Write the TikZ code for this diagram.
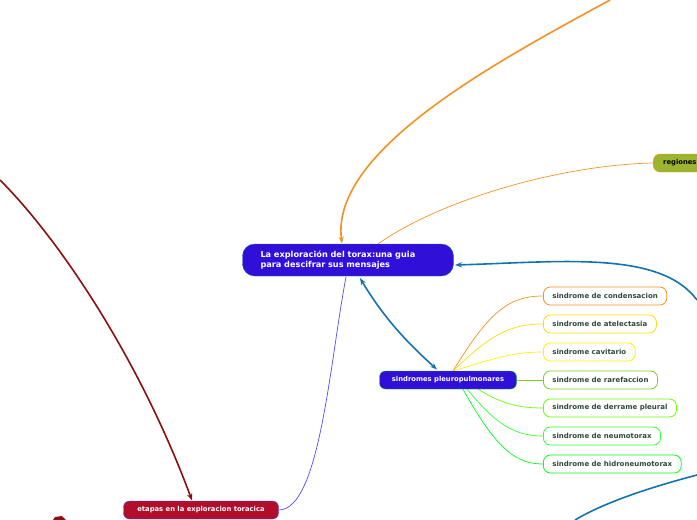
\documentclass[tikz,border=0pt]{standalone}
\usepackage{fontspec}
\setmainfont{DejaVu Sans}
\usetikzlibrary{arrows.meta,backgrounds}
\definecolor{mainblue}{HTML}{3010D8}
\definecolor{teal}{HTML}{1473AE}
\definecolor{dred}{HTML}{8A0F0F}
\definecolor{ered}{HTML}{B00E2A}
\definecolor{orng}{HTML}{F39224}
\definecolor{txtg}{HTML}{2E4A3A}
\definecolor{olv}{HTML}{9DB52E}
\tikzset{x=1pt,y=-1pt,
 sub/.style={draw=#1,line width=0.8pt,rounded corners=7pt,fill=white,minimum height=18pt,anchor=west,font=\bfseries\fontsize{7}{8}\selectfont,text=txtg,inner xsep=9pt},
 lk/.style={draw=#1,line width=0.7pt}}
\begin{document}
\begin{tikzpicture}
\useasboundingbox (0,0) rectangle (697,520);
\node[draw=teal,fill=mainblue,rounded corners=12pt,minimum width=211pt,minimum height=32pt,text=white,font=\bfseries\fontsize{8.2}{10}\selectfont,align=left,text width=175pt] (main) at (348,260) {La exploración del torax:una guia\\para descifrar sus mensajes};
\node[draw=green!80!black,fill=mainblue,rounded corners=6pt,minimum width=137pt,minimum height=18pt,text=white,font=\bfseries\fontsize{6.8}{7}\selectfont] (sp) at (448,380) {sindromes pleuropulmonares};
\node[draw=blue!70,fill=ered,rounded corners=6pt,minimum width=155pt,minimum height=18pt,text=white,font=\bfseries\fontsize{6.8}{7}\selectfont] (et) at (201,510) {etapas en la exploracion toracica};
\node[draw=orng,fill=olv,rounded corners=7pt,minimum height=18pt,anchor=west,font=\bfseries\fontsize{6.8}{7}\selectfont,inner xsep=10pt,align=left] (reg) at (653,163) {regiones\hspace{20pt}};
\node[sub=orng] (s1) at (543,296) {sindrome de condensacion};
\node[sub=yellow!80!orange] (s2) at (543,324) {sindrome de atelectasia};
\node[sub=yellow] (s3) at (543,352) {sindrome cavitario};
\node[sub=yellow!50!green] (s4) at (543,380) {sindrome de rarefaccion};
\node[sub=green!60!yellow] (s5) at (543,408) {sindrome de derrame pleural};
\node[sub=green!80] (s6) at (543,436) {sindrome de neumotorax};
\node[sub=green!90!cyan] (s7) at (543,464) {sindrome de hidroneumotorax};
\coordinate (f) at (453,371);
\begin{scope}[on background layer]
\draw[lk=orng] (f) .. controls (490,310) and (510,296) .. (s1.west);
\draw[lk=yellow!80!orange] (f) .. controls (490,335) and (510,324) .. (s2.west);
\draw[lk=yellow] (f) .. controls (490,360) and (510,352) .. (s3.west);
\draw[lk=yellow!50!green] (sp.east) -- (s4.west);
\draw[lk=green!60!yellow] (f) .. controls (490,400) and (510,408) .. (s5.west);
\draw[lk=green!80] (f) .. controls (490,420) and (510,436) .. (s6.west);
\draw[lk=green!90!cyan] (f) .. controls (490,440) and (510,464) .. (s7.west);
\draw[orng,line width=0.7pt] (378,244) .. controls (440,200) and (560,165) .. (reg.west);
\draw[blue!70,line width=0.7pt] (346,277) .. controls (330,360) and (320,510) .. (et.east);
\end{scope}
\draw[orng,line width=1.6pt,-{Stealth[length=7pt,open]}] (610,0) .. controls (500,60) and (330,150) .. (342,243.5);
\draw[teal,line width=1.6pt,-{Stealth[length=7pt,open]}] (697,300) .. controls (660,250) and (560,262) .. (455,265);
\draw[teal,line width=1.6pt,{Stealth[length=7pt,open]}-{Stealth[length=7pt,open]}] (360,278) .. controls (385,320) and (410,345) .. (437,369.5);
\draw[dred,line width=1.6pt,-{Stealth[length=7pt,open]}] (0,180) .. controls (60,240) and (140,360) .. (192,500.5);
\draw[teal,line width=1.6pt] (697,475) .. controls (640,490) and (600,505) .. (575,520);
\fill[dred] (53,520) -- (55,517) -- (62,516) -- (66,520) -- cycle;
\end{tikzpicture}
\end{document}
